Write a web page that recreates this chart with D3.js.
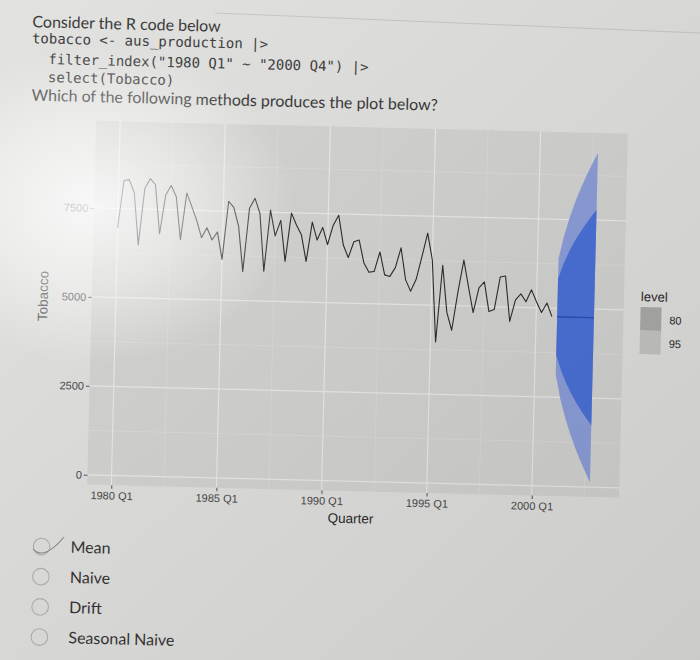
<!DOCTYPE html>
<html><head><meta charset="utf-8">
<script src="https://cdn.jsdelivr.net/npm/d3@7"></script>
<style>html,body{margin:0;padding:0;background:#e0e0de;} svg{display:block}</style>
</head><body>
<svg id="c" width="700" height="660"></svg>
<script>
// ---------------- data ----------------
const startYear = 1980; // 1980 Q1 .. 2000 Q4, quarterly
const tobacco = [
  6960, 8290, 8320, 7960,
  6500, 8080, 8360, 8200,
  6820, 7910, 8180, 7880,
  6670, 7980, 7610, 7220,
  6740, 7020, 6680, 6910,
  6140, 7780, 7610, 7090,
  5820, 7600, 7880, 7460,
  5840, 7560, 6840, 7280,
  6130, 7490, 7160, 6880,
  6140, 7250, 6750, 7110,
  6630, 7180, 7460, 6630,
  6280, 6730, 6780, 6140,
  5880, 5910, 6460, 5820,
  5780, 6030, 6590, 5700,
  5380, 5710, 6350, 7020,
  6270, 3970, 6130, 4810,
  4310, 5370, 6290, 5540,
  4820, 5520, 5690, 4860,
  4920, 5840, 5870, 4600,
  5210, 5380, 5160, 5500,
  5170, 4870, 5140, 4760
];
// forecast 2001 Q1 .. 2002 Q4
const fcMean = [4760, 4760, 4760, 4760, 4760, 4760, 4760, 4760];
const hi95 = [6400, 7070, 7590, 8030, 8420, 8770, 9090, 9390];
const hi80 = [5830, 6270, 6610, 6900, 7150, 7380, 7590, 7790];
const lo80 = [3690, 3250, 2910, 2620, 2370, 2140, 1930, 1740];
const lo95 = [3130, 2450, 1930, 1490, 1100, 760, 440, 140];

const yTicks = [0, 2500, 5000, 7500];
const yMinor = [1250, 3750, 6250, 8750];
const xTickYears = [1980, 1985, 1990, 1995, 2000];
const xTickLabels = ["1980 Q1", "1985 Q1", "1990 Q1", "1995 Q1", "2000 Q1"];
const xMinorYears = [1982.5, 1987.5, 1992.5, 1997.5, 2002.5];
const levels = ["80", "95"];
const options = ["Mean", "Naive", "Drift", "Seasonal Naive"];
const codeLines = [
  'tobacco <- aus_production |>',
  '  filter_index("1980 Q1" ~ "2000 Q4") |>',
  '  select(Tobacco)'
];

// ---------------- drawing ----------------
const svg = d3.select("#c");
const defs = svg.append("defs");
const glare = defs.append("radialGradient").attr("id", "glare");
glare.append("stop").attr("offset", "0").attr("stop-color", "#fff").attr("stop-opacity", 0.8);
glare.append("stop").attr("offset", "0.5").attr("stop-color", "#fff").attr("stop-opacity", 0.45);
glare.append("stop").attr("offset", "1").attr("stop-color", "#fff").attr("stop-opacity", 0);
const shade = defs.append("linearGradient").attr("id", "shade")
  .attr("x1", "0").attr("y1", "0").attr("x2", "1").attr("y2", "1");
shade.append("stop").attr("offset", "0").attr("stop-color", "#000").attr("stop-opacity", 0);
shade.append("stop").attr("offset", "1").attr("stop-color", "#000").attr("stop-opacity", 0.1);

svg.append("rect").attr("width", 700).attr("height", 660).attr("fill", "#e2e2e0");

const g = svg.append("g").attr("transform", "rotate(1.4,350,330)");

// question text
const qFont = "Lato, 'Open Sans', sans-serif";
const mono = "'DejaVu Sans Mono', 'Liberation Mono', monospace";
g.append("text").attr("x", 25).attr("y", 35).attr("font-family", qFont).attr("font-size", 16)
  .attr("fill", "#3c3c3c").text("Consider the R code below");
g.selectAll("text.code").data(codeLines).join("text").attr("class", "code")
  .attr("x", 25).attr("y", (d, i) => [51, 71.5, 89.5][i])
  .attr("font-family", mono).attr("font-size", 14).attr("fill", "#404040")
  .attr("xml:space", "preserve").style("white-space", "pre").text(d => d);
g.append("text").attr("x", 26).attr("y", 108.5).attr("font-family", qFont).attr("font-size", 16)
  .attr("fill", "#3c3c3c").text("Which of the following methods produces the plot below?");

// plot
const P = {l: 91, r: 623, t: 127, b: 491};
const x = d3.scaleLinear().domain([1978.85, 2004.15]).range([P.l, P.r]);
const y = d3.scaleLinear().domain([-275, 9950]).range([P.b, P.t]);
const tOf = i => startYear + i / 4;

g.append("rect").attr("x", P.l).attr("y", P.t).attr("width", P.r - P.l).attr("height", P.b - P.t)
  .attr("fill", "#d5d5d3");
const grid = g.append("g");
grid.selectAll("line.ym").data(yMinor).join("line")
  .attr("x1", P.l).attr("x2", P.r).attr("y1", d => y(d)).attr("y2", d => y(d))
  .attr("stroke", "#e2e2e0").attr("stroke-width", 0.6);
grid.selectAll("line.xm").data(xMinorYears).join("line")
  .attr("y1", P.t).attr("y2", P.b).attr("x1", d => x(d)).attr("x2", d => x(d))
  .attr("stroke", "#e2e2e0").attr("stroke-width", 0.6);
grid.selectAll("line.yM").data(yTicks).join("line")
  .attr("x1", P.l).attr("x2", P.r).attr("y1", d => y(d)).attr("y2", d => y(d))
  .attr("stroke", "#ececea").attr("stroke-width", 1.2);
grid.selectAll("line.xM").data(xTickYears).join("line")
  .attr("y1", P.t).attr("y2", P.b).attr("x1", d => x(d)).attr("x2", d => x(d))
  .attr("stroke", "#ececea").attr("stroke-width", 1.2);

// forecast ribbons
const fc = fcMean.map((m, h) => ({t: 2001 + h / 4, m, lo80: lo80[h], hi80: hi80[h], lo95: lo95[h], hi95: hi95[h]}));
const area = (lo, hi) => d3.area().x(d => x(d.t)).y0(d => y(d[lo])).y1(d => y(d[hi]));
g.append("path").datum(fc).attr("d", area("lo95", "hi95")).attr("fill", "#8ea0dc");
g.append("path").datum(fc).attr("d", area("lo80", "hi80")).attr("fill", "#4b72d9");
g.append("path").datum(fc).attr("d", d3.line().x(d => x(d.t)).y(d => y(d.m)))
  .attr("fill", "none").attr("stroke", "#2850b8").attr("stroke-width", 1.4);

// series
g.append("path").datum(tobacco)
  .attr("d", d3.line().x((d, i) => x(tOf(i))).y(d => y(d)))
  .attr("fill", "none").attr("stroke", "#2e2e2e").attr("stroke-width", 1.1).attr("stroke-linejoin", "round");

// axes
const axFont = "'Liberation Sans', Arial, sans-serif";
const yAx = g.append("g").attr("transform", `translate(${P.l},0)`)
  .call(d3.axisLeft(y).tickValues(yTicks).tickFormat(d3.format("d")).tickSize(3.5).tickPadding(2));
const xAx = g.append("g").attr("transform", `translate(0,${P.b})`)
  .call(d3.axisBottom(x).tickValues(xTickYears).tickFormat((d, i) => xTickLabels[i]).tickSize(3.5).tickPadding(3));
[yAx, xAx].forEach(a => {
  a.select(".domain").remove();
  a.selectAll(".tick line").attr("stroke", "#555");
  a.selectAll(".tick text").attr("fill", "#4a4a4a").attr("font-family", axFont).attr("font-size", 11);
});
g.append("text").attr("x", 355).attr("y", 523).attr("text-anchor", "middle")
  .attr("font-family", axFont).attr("font-size", 13.5).attr("fill", "#2a2a2a").text("Quarter");
g.append("text").attr("transform", "translate(47,303.5) rotate(-90)").attr("text-anchor", "middle")
  .attr("font-family", axFont).attr("font-size", 13.5).attr("fill", "#444").text("Tobacco");

// legend
g.append("text").attr("x", 640).attr("y", 294).attr("font-family", axFont).attr("font-size", 13)
  .attr("fill", "#2a2a2a").text("level");
const keyFill = ["#acacaa", "#c6c6c4"];
const lg = g.selectAll("g.key").data(levels).join("g").attr("class", "key")
  .attr("transform", (d, i) => `translate(640,${300 + i * 23.5})`);
lg.append("rect").attr("width", 21).attr("height", 23.5).attr("fill", (d, i) => keyFill[i]);
lg.append("text").attr("x", 29).attr("y", 16.5).attr("font-family", axFont).attr("font-size", 11)
  .attr("fill", "#2a2a2a").text(d => d);

// answer options
const og = g.selectAll("g.opt").data(options).join("g").attr("class", "opt")
  .attr("transform", (d, i) => `translate(47,${554 + i * 30.2})`);
og.append("circle").attr("r", 8.3).attr("fill", "none").attr("stroke", "#b4b4b2").attr("stroke-width", 1.1);
og.append("text").attr("x", 29).attr("y", 5.5).attr("font-family", qFont).attr("font-size", 16)
  .attr("fill", "#363636").text(d => d);

// photo lighting
svg.append("line").attr("x1", 215).attr("y1", 13).attr("x2", 700).attr("y2", 33)
  .attr("stroke", "#c9c9c7").attr("stroke-width", 1);
svg.append("path").attr("d", "M33,549 Q44,561 64,537").attr("fill", "none")
  .attr("stroke", "#8a8a88").attr("stroke-width", 1.1);
svg.append("rect").attr("width", 700).attr("height", 660).attr("fill", "url(#shade)");
svg.append("ellipse").attr("cx", 95).attr("cy", 205).attr("rx", 200).attr("ry", 160).attr("fill", "url(#glare)");
</script>
</body></html>
